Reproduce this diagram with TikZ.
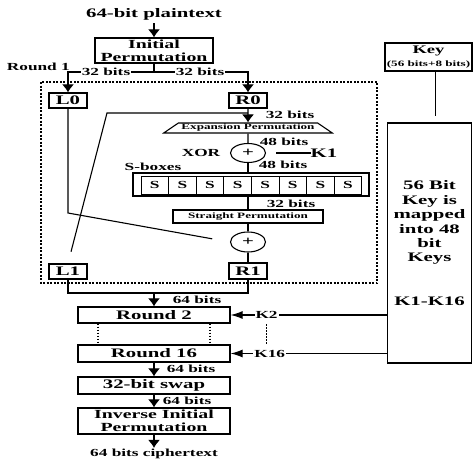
\documentclass[tikz,border=0pt]{standalone}
\usepackage{fontspec}
\setmainfont{Liberation Serif}[FakeStretch=1.6]
\newcommand{\fbig}{\fontsize{13}{14.4}\selectfont\bfseries}
\newcommand{\fip}{\fontsize{12.4}{13}\selectfont\bfseries}
\newcommand{\fmid}{\fontsize{10.8}{12}\selectfont\bfseries}
\newcommand{\fsmall}{\fontsize{8.2}{9}\selectfont\bfseries}
\usepackage{tikz}
\usetikzlibrary{arrows.meta,shapes.geometric}

\begin{document}
\begin{tikzpicture}[x=1pt,y=-1pt,
        box/.style={draw,line width=1.3pt,inner sep=0pt,align=center,font=\fbig},
        lbl/.style={inner sep=1pt,font=\fmid},
        wire/.style={line width=1.1pt},
        arr/.style={wire,-{Latex[length=8pt,width=12pt]}},
        harr/.style={wire,-{Latex[length=12pt,width=8pt]}},
        xorc/.style={draw,ellipse,line width=1.1pt,minimum width=35pt,
                     minimum height=19pt,inner sep=0pt,font=\fbig},
        cell/.style={draw,line width=1pt,minimum width=27.6pt,
                     minimum height=18pt,inner sep=0pt,font=\fmid}]
    \useasboundingbox (0,0) rectangle (474,474);

    \node[font=\fbig] (plain) at (154,14) {64-bit plaintext};
    \node[box,font=\fip,minimum width=118pt,minimum height=25pt] (ip) at (154,50.5)
      {Initial\\Permutation};
    \node[lbl,anchor=east] (round1) at (71,67) {Round 1};

    \draw[line width=1.1pt,dash pattern=on 2pt off 1.5pt] (41,82) rectangle (377,283);

    \node[box,minimum width=38pt,minimum height=15pt] (L0) at (68,100.5) {L0};
    \node[box,minimum width=38pt,minimum height=15pt] (R0) at (248,100.5) {R0};
    \node[box,minimum width=38pt,minimum height=15pt] (L1) at (68,271.5) {L1};
    \node[box,minimum width=38pt,minimum height=16pt] (R1) at (248,271) {R1};

    \node[draw,trapezium,trapezium stretches=true,trapezium left angle=28,
          trapezium right angle=28,minimum width=169pt,minimum height=10pt,
          inner sep=0pt,line width=1.1pt,font=\fsmall] (exp) at (248,128)
      {Expansion Permutation};
    \node[xorc] (xor1) at (248,153) {+};
    \node[lbl] (xorlbl) at (201,153) {XOR};
    \node[font=\fbig,inner sep=0pt] (K1) at (324,153) {K1};

    \node[box,minimum width=236pt,minimum height=23pt] (sbox) at (251,184.5) {};
    \foreach \i in {1,...,8}
      \node[cell] (s\i) at (127.2+27.6*\i,185) {S};
    \node[lbl] (sboxlbl) at (153,167) {S-boxes};

    \node[box,font=\fsmall,minimum width=150pt,minimum height=13pt] (sp) at (248,216.5)
      {Straight Permutation};
    \node[xorc,minimum height=20pt] (xor2) at (248,242) {+};

    \node[lbl] (b1) at (290,115) {32 bits};
    \node[lbl] (b2) at (284,142) {48 bits};
    \node[lbl] (b3) at (283,165) {48 bits};
    \node[lbl] (b4) at (291,204) {32 bits};

    \coordinate (split) at (154,72);
    \coordinate (lbend) at (68,213);
    \coordinate (rtap) at (248,113);
    \coordinate (rbend) at (107,113);
    \coordinate (join) at (154,293);

    \draw[arr] (plain.south) -- (ip.north);
    \draw[wire] (ip.south) -- (split);
    \draw[arr] (split) -| (L0.north);
    \draw[arr] (split) -| (R0.north);
    \node[lbl,fill=white] (h1) at (106,72) {32 bits};
    \node[lbl,fill=white] (h2) at (200,72) {32 bits};

    \draw[arr] (R0.south) -- (exp.north);
    \draw[wire] (exp.south) -- (xor1.north);
    \draw[wire,shorten >=10pt] (K1.west) -- (xor1.east);
    \draw[wire] (xor1.south) -- (xor1.south |- sbox.north);
    \draw[wire] (xor1.south |- sbox.south) -- (sp.north);
    \draw[wire] (sp.south) -- (xor2.north);
    \draw[wire] (xor2.south) -- (R1.north);
    \draw[wire,shorten >=18pt] (L0.south) -- (lbend) -- (xor2.west);
    \draw[wire,shorten >=12pt] (rtap) -- (rbend) -- (L1.north);

    \node[box,minimum width=152pt,minimum height=16pt] (r2) at (154,315) {Round 2};
    \node[box,minimum width=152pt,minimum height=17pt] (r16) at (154,353.5) {Round 16};
    \node[box,minimum width=152pt,minimum height=17pt] (swap) at (154,385.5) {32-bit swap};
    \node[box,font=\fip,minimum width=152pt,minimum height=26pt] (inv) at (154,421)
      {Inverse Initial\\Permutation};
    \node[lbl] (cipher) at (154,454) {64 bits ciphertext};

    \draw[wire] (L1.south) |- (join) -| (R1.south);
    \draw[arr] (join) -- (r2.north);
    \node[lbl] (b5) at (197,300) {64 bits};
    \draw[wire,dash pattern=on 1.5pt off 1.5pt] ([xshift=-56pt]r2.south) -- ([xshift=-56pt]r16.north);
    \draw[wire,dash pattern=on 1.5pt off 1.5pt] ([xshift=56pt]r2.south) -- ([xshift=56pt]r16.north);
    \draw[arr] (r16.south) -- (swap.north);
    \node[lbl] (b6) at (191,369) {64 bits};
    \draw[arr] (swap.south) -- (inv.north);
    \node[lbl] (b7) at (187,401) {64 bits};
    \draw[arr] (inv.south) -- (cipher.north);

    \node[box,minimum width=87pt,minimum height=28pt] (key) at (428.5,57)
      {{\fontsize{11.6}{12}\selectfont\bfseries Key}\\[-1pt]{\fsmall (56 bits+8 bits)}};
    \node[box,minimum width=84pt,minimum height=240pt] (keys) at (429.5,243)
      {56 Bit\\Key is\\mapped\\into 48\\bit\\Keys\\[28.8pt]K1-K16};
    \draw[wire,shorten >=6pt] ([xshift=7pt]key.south) -- ([xshift=7pt]key.south |- keys.north);

    \draw[harr] (keys.west |- r2.east) -- node[lbl,pos=0.77,fill=white] (k2) {K2} (r2.east);
    \draw[harr] (keys.west |- r16.east) -- node[lbl,pos=0.75,fill=white] (k16) {K16} (r16.east);
    \draw[wire,dash pattern=on 1.5pt off 1.5pt,shorten <=4pt,shorten >=4pt] (k2.south) -- (k2.south |- k16.north);
\end{tikzpicture}
\end{document}
